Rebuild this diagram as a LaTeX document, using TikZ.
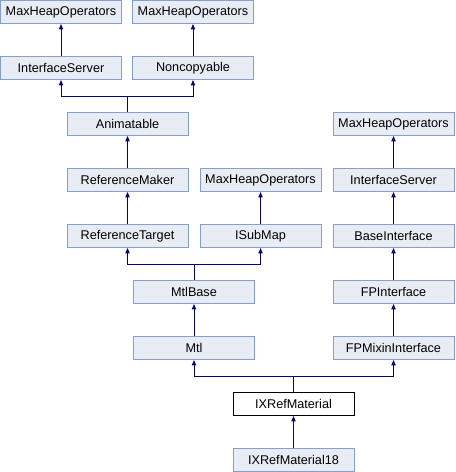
\documentclass[tikz,border=0pt]{standalone}
\usepackage{fontspec}
\setmainfont{Liberation Sans}
\usetikzlibrary{arrows.meta,calc,positioning}
\definecolor{boxfill}{RGB}{232,236,245}
\definecolor{boxline}{RGB}{132,160,208}
\definecolor{linkblue}{RGB}{0,0,128}
\begin{document}
\begin{tikzpicture}[x=0.75pt,y=-0.75pt,
    cls/.style={draw=boxline,fill=boxfill,line width=0.75pt,inner sep=0pt,
      minimum width=90.75pt,minimum height=17.25pt,
      font=\fontsize{9.5}{11}\selectfont},
    current/.style={cls,draw=black,fill=white},
    inherit/.style={draw=linkblue,line width=0.75pt,-{Triangle[length=4pt,width=3.2pt]}}]
        \useasboundingbox (0,0) rectangle (455,472);
        %Classes
        \node[cls] (mho1) at (61,12) {MaxHeapOperators};
        \node[cls] (mho2) at (193,12) {MaxHeapOperators};
        \node[cls] (is1) at (61,68) {InterfaceServer};
        \node[cls] (nc) at (193,68) {Noncopyable};
        \node[cls] (anim) at (127.5,124) {Animatable};
        \node[cls] (mho4) at (393.5,124) {MaxHeapOperators};
        \node[cls] (refmaker) at (127.5,180) {ReferenceMaker};
        \node[cls] (mho3) at (260.5,180) {MaxHeapOperators};
        \node[cls] (is2) at (393.5,180) {InterfaceServer};
        \node[cls] (reftarget) at (127.5,236) {ReferenceTarget};
        \node[cls] (isubmap) at (260.5,236) {ISubMap};
        \node[cls] (baseif) at (393.5,236) {BaseInterface};
        \node[cls] (mtlbase) at (194,292) {MtlBase};
        \node[cls] (fpif) at (393.5,292) {FPInterface};
        \node[cls] (mtl) at (194,348) {Mtl};
        \node[cls] (fpmixin) at (393.5,348) {FPMixinInterface};
        \node[current] (ixref) at (293.5,404) {IXRefMaterial};
        \node[cls] (ixref18) at (293.5,460) {IXRefMaterial18};
        %Junctions
        \coordinate (j1) at (127.5,96);
        \coordinate (j2) at (194,264);
        \coordinate (j3) at (293.5,376);
        %Single inheritance
        \draw[inherit] (is1) -- (mho1);
        \draw[inherit] (nc) -- (mho2);
        \draw[inherit] (refmaker) -- (anim);
        \draw[inherit] (reftarget) -- (refmaker);
        \draw[inherit] (isubmap) -- (mho3);
        \draw[inherit] (is2) -- (mho4);
        \draw[inherit] (baseif) -- (is2);
        \draw[inherit] (fpif) -- (baseif);
        \draw[inherit] (fpmixin) -- (fpif);
        \draw[inherit] (mtl) -- (mtlbase);
        \draw[inherit] (ixref18) -- (ixref);
        %Multiple inheritance
        \draw[draw=linkblue,line width=0.75pt] (anim) -- (j1);
        \draw[inherit] (j1) -| (is1);
        \draw[inherit] (j1) -| (nc);
        \draw[draw=linkblue,line width=0.75pt] (mtlbase) -- (j2);
        \draw[inherit] (j2) -| (reftarget);
        \draw[inherit] (j2) -| (isubmap);
        \draw[draw=linkblue,line width=0.75pt] (ixref) -- (j3);
        \draw[inherit] (j3) -| (mtl);
        \draw[inherit] (j3) -| (fpmixin);
      \end{tikzpicture}
\end{document}
